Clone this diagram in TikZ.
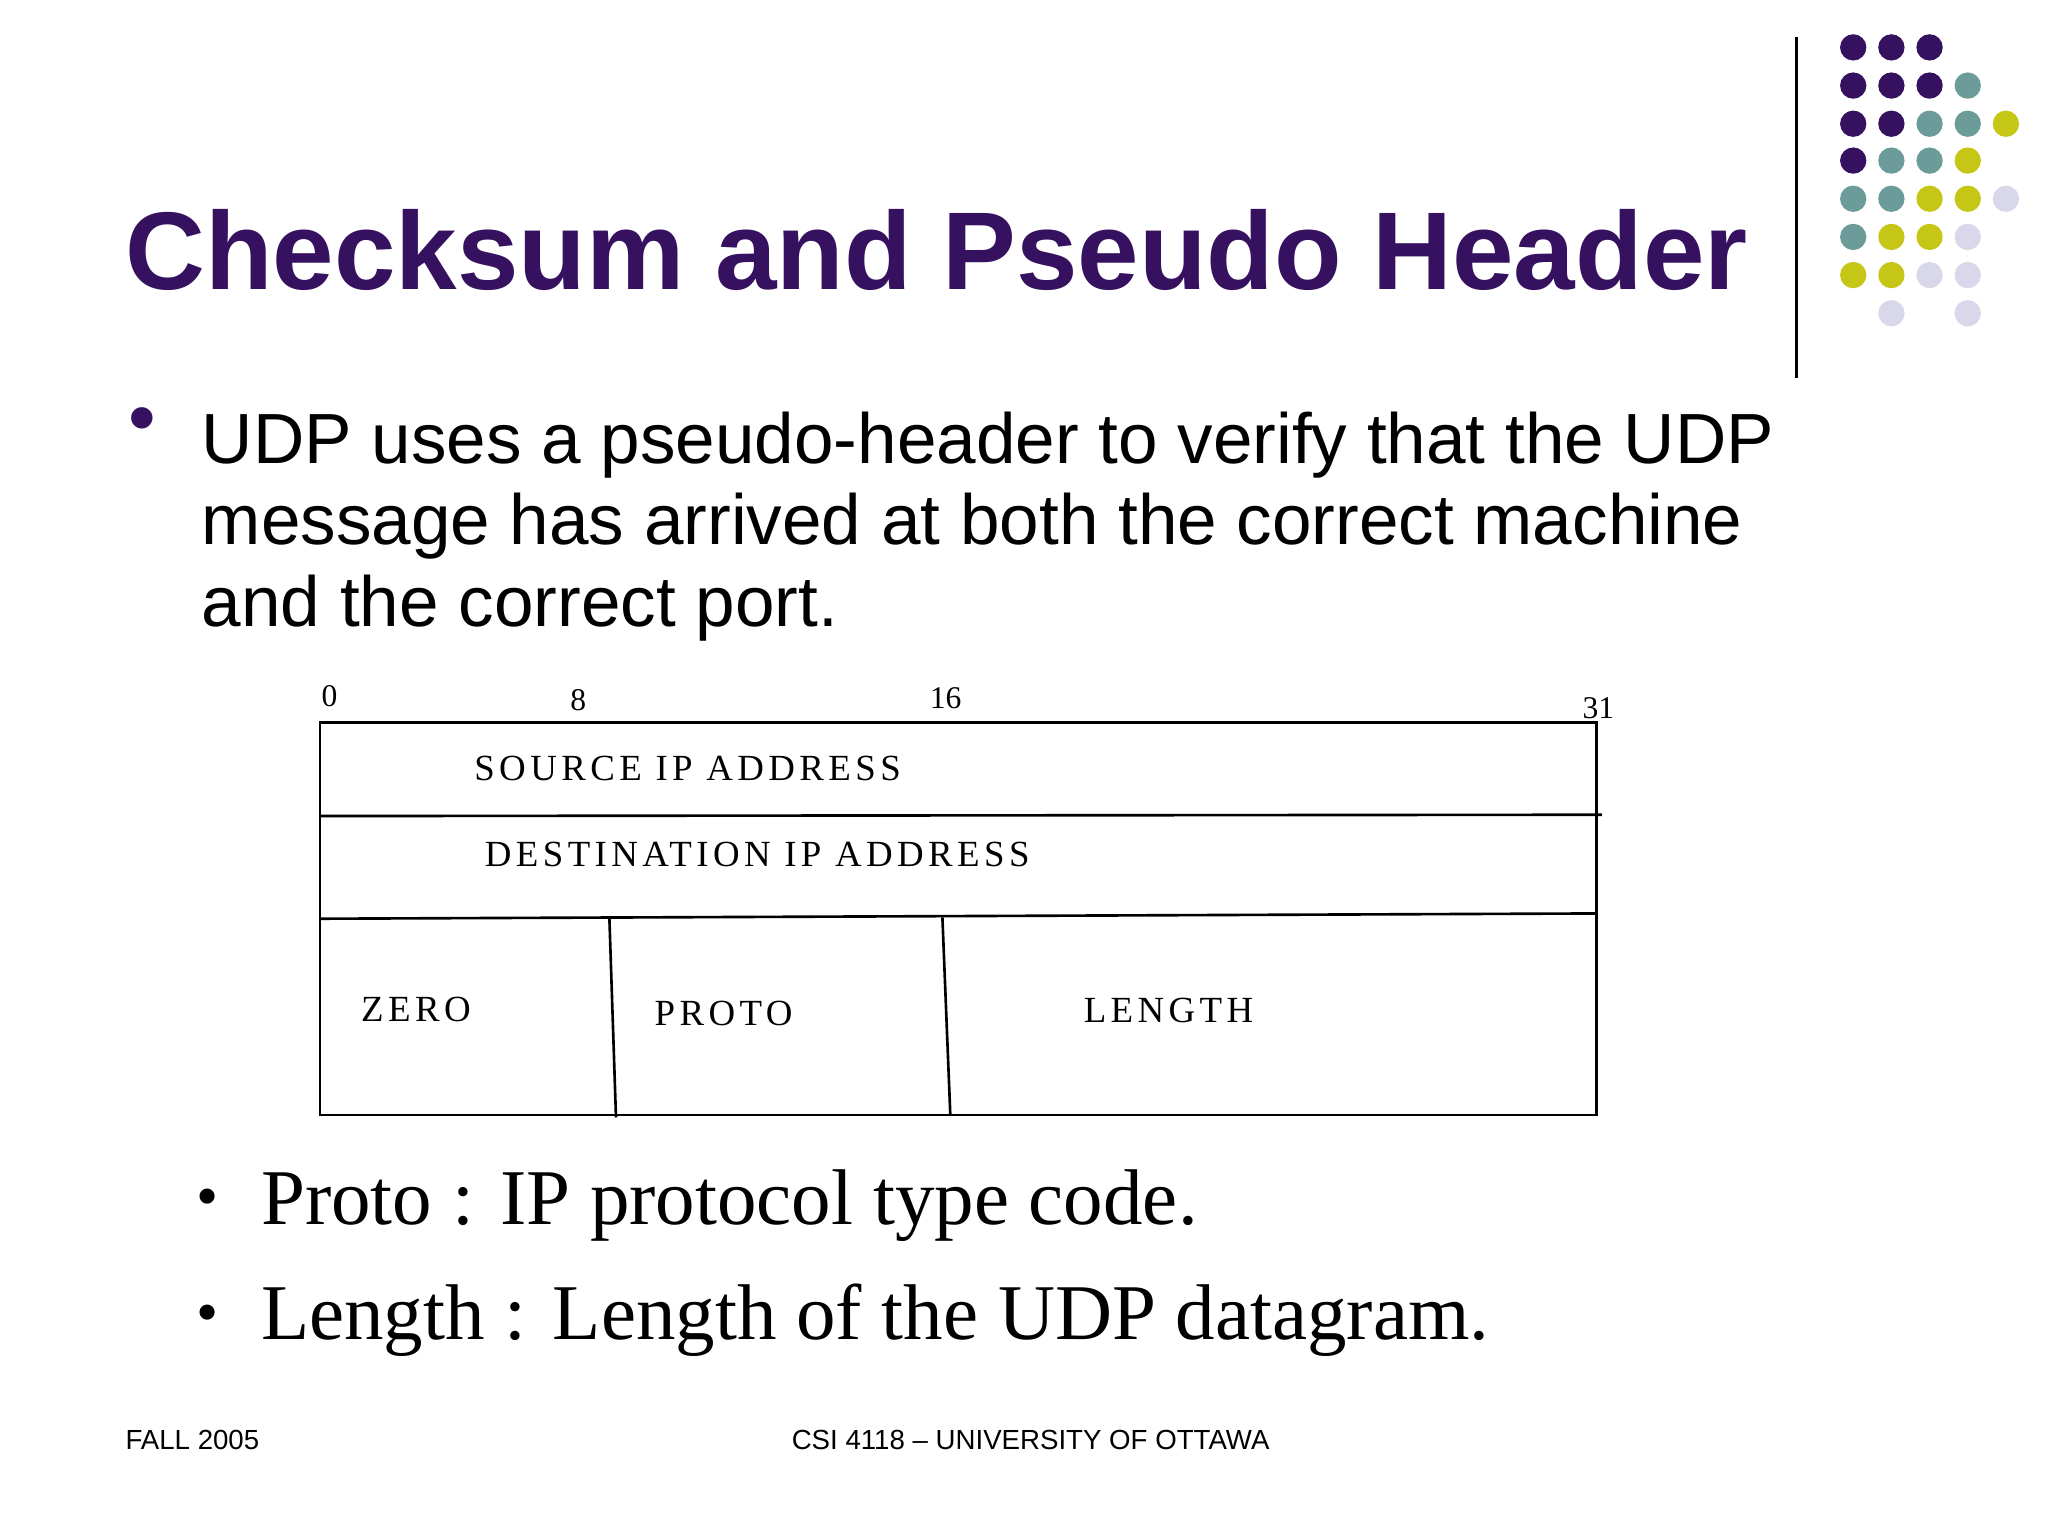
\documentclass[tikz,border=0pt]{standalone}
\usepackage{fontspec}
\setmainfont{Liberation Serif}
\setsansfont{Liberation Sans}
\begin{document}
\begin{tikzpicture}[x=0.5pt,y=-0.5pt,
  dot/.style={circle,inner sep=0pt,minimum size=10pt},
  fld/.style={anchor=base west,inner sep=0pt,font=\fontsize{14}{14}\selectfont\rmfamily\addfontfeature{LetterSpace=12}},
  num/.style={anchor=base west,inner sep=0pt,font=\fontsize{12}{12}\selectfont\rmfamily},
  intro/.style={anchor=base west,inner sep=0pt,font=\fontsize{27}{27}\selectfont\sffamily}]
\definecolor{pp}{HTML}{36115F}
\definecolor{tt}{HTML}{6C9C9A}
\definecolor{yy}{HTML}{C6C617}
\definecolor{ll}{HTML}{D8D8EA}
\useasboundingbox (0,0) rectangle (1556,1168);
\fill[white] (0,0) rectangle (1556,1168);
% dots
\foreach \x/\y/\c [count=\i] in {1408/36/pp,1437/36/pp,1466/36/pp,
 1408/65/pp,1437/65/pp,1466/65/pp,1495/65/tt,
 1408/94/pp,1437/94/pp,1466/94/tt,1495/94/tt,1524/94/yy,
 1408/122/pp,1437/122/tt,1466/122/tt,1495/122/yy,
 1408/151/tt,1437/151/tt,1466/151/yy,1495/151/yy,1524/151/ll,
 1408/180/tt,1437/180/yy,1466/180/yy,1495/180/ll,
 1408/209/yy,1437/209/yy,1466/209/ll,1495/209/ll,
 1437/238/ll,1495/238/ll}
 \node[dot,fill=\c] (d\i) at (\x,\y) {};
\coordinate (vt) at (1365,28); \coordinate (vb) at (1365,287);
\draw[line width=1pt] (vt) -- (vb);
\node[anchor=base west,inner sep=0pt,text=pp,font=\fontsize{42}{42}\selectfont\sffamily\bfseries] (title) at (95,220) {Checksum and Pseudo Header};
\node[anchor=base,inner sep=0pt,text=pp,font=\fontsize{30}{30}\selectfont\sffamily] (b0) at (108,338) {\textbullet};
\node[intro] (i1) at (153,352) {UDP uses a pseudo-header to verify that the UDP};
\node[intro] (i2) at (153,414) {message has arrived at both the correct machine};
\node[intro] (i3) at (153,476) {and the correct port.};
% diagram
\coordinate (tl) at (243,549); \coordinate (br) at (1213,847);
\draw[line width=1pt] (tl) rectangle (br);
\coordinate (l1a) at (243,620); \coordinate (l1b) at (1217,619);
\coordinate (l2a) at (243,698); \coordinate (l2b) at (1213,694);
\draw[line width=1pt] (l1a) -- (l1b);
\draw[line width=1pt] (l2a) -- (l2b);
\coordinate (v1a) at (463,698); \coordinate (v1b) at (468,849);
\coordinate (v2a) at (716,697); \coordinate (v2b) at (722,847);
\draw[line width=1pt] (v1a) -- (v1b);
\draw[line width=1pt] (v2a) -- (v2b);
\node[num] (n0) at (244,537) {0};
\node[num] (n8) at (433,540) {8};
\node[num] (n16) at (706,538) {16};
\node[num] (n31) at (1202,546) {31};
\node[fld] (src) at (360,593) {SOURCE IP ADDRESS};
\node[fld] (dst) at (368,658) {DESTINATION IP ADDRESS};
\node[fld] (zero) at (274,776) {ZERO};
\node[fld] (proto) at (497,779) {PROTO};
\node[fld] (len) at (823,777) {LENGTH};
% bottom bullets
\node[anchor=base,inner sep=0pt,font=\fontsize{24}{24}\selectfont] (b1) at (158,925) {\textbullet};
\node[anchor=base west,inner sep=0pt,font=\fontsize{30}{30}\selectfont] (t1) at (198,930) {Proto : IP protocol type code.};
\node[anchor=base,inner sep=0pt,font=\fontsize{24}{24}\selectfont] (b2) at (158,1013) {\textbullet};
\node[anchor=base west,inner sep=0pt,font=\fontsize{30}{30}\selectfont] (t2) at (198,1018) {Length : Length of the UDP datagram.};
% footer
\node[anchor=base west,inner sep=0pt,font=\fontsize{10.5}{10.5}\selectfont\sffamily] (f1) at (95,1101) {FALL 2005};
\node[anchor=base,inner sep=0pt,font=\fontsize{10.5}{10.5}\selectfont\sffamily] (f2) at (783,1101) {CSI 4118 -- UNIVERSITY OF OTTAWA};
\end{tikzpicture}
\end{document}
